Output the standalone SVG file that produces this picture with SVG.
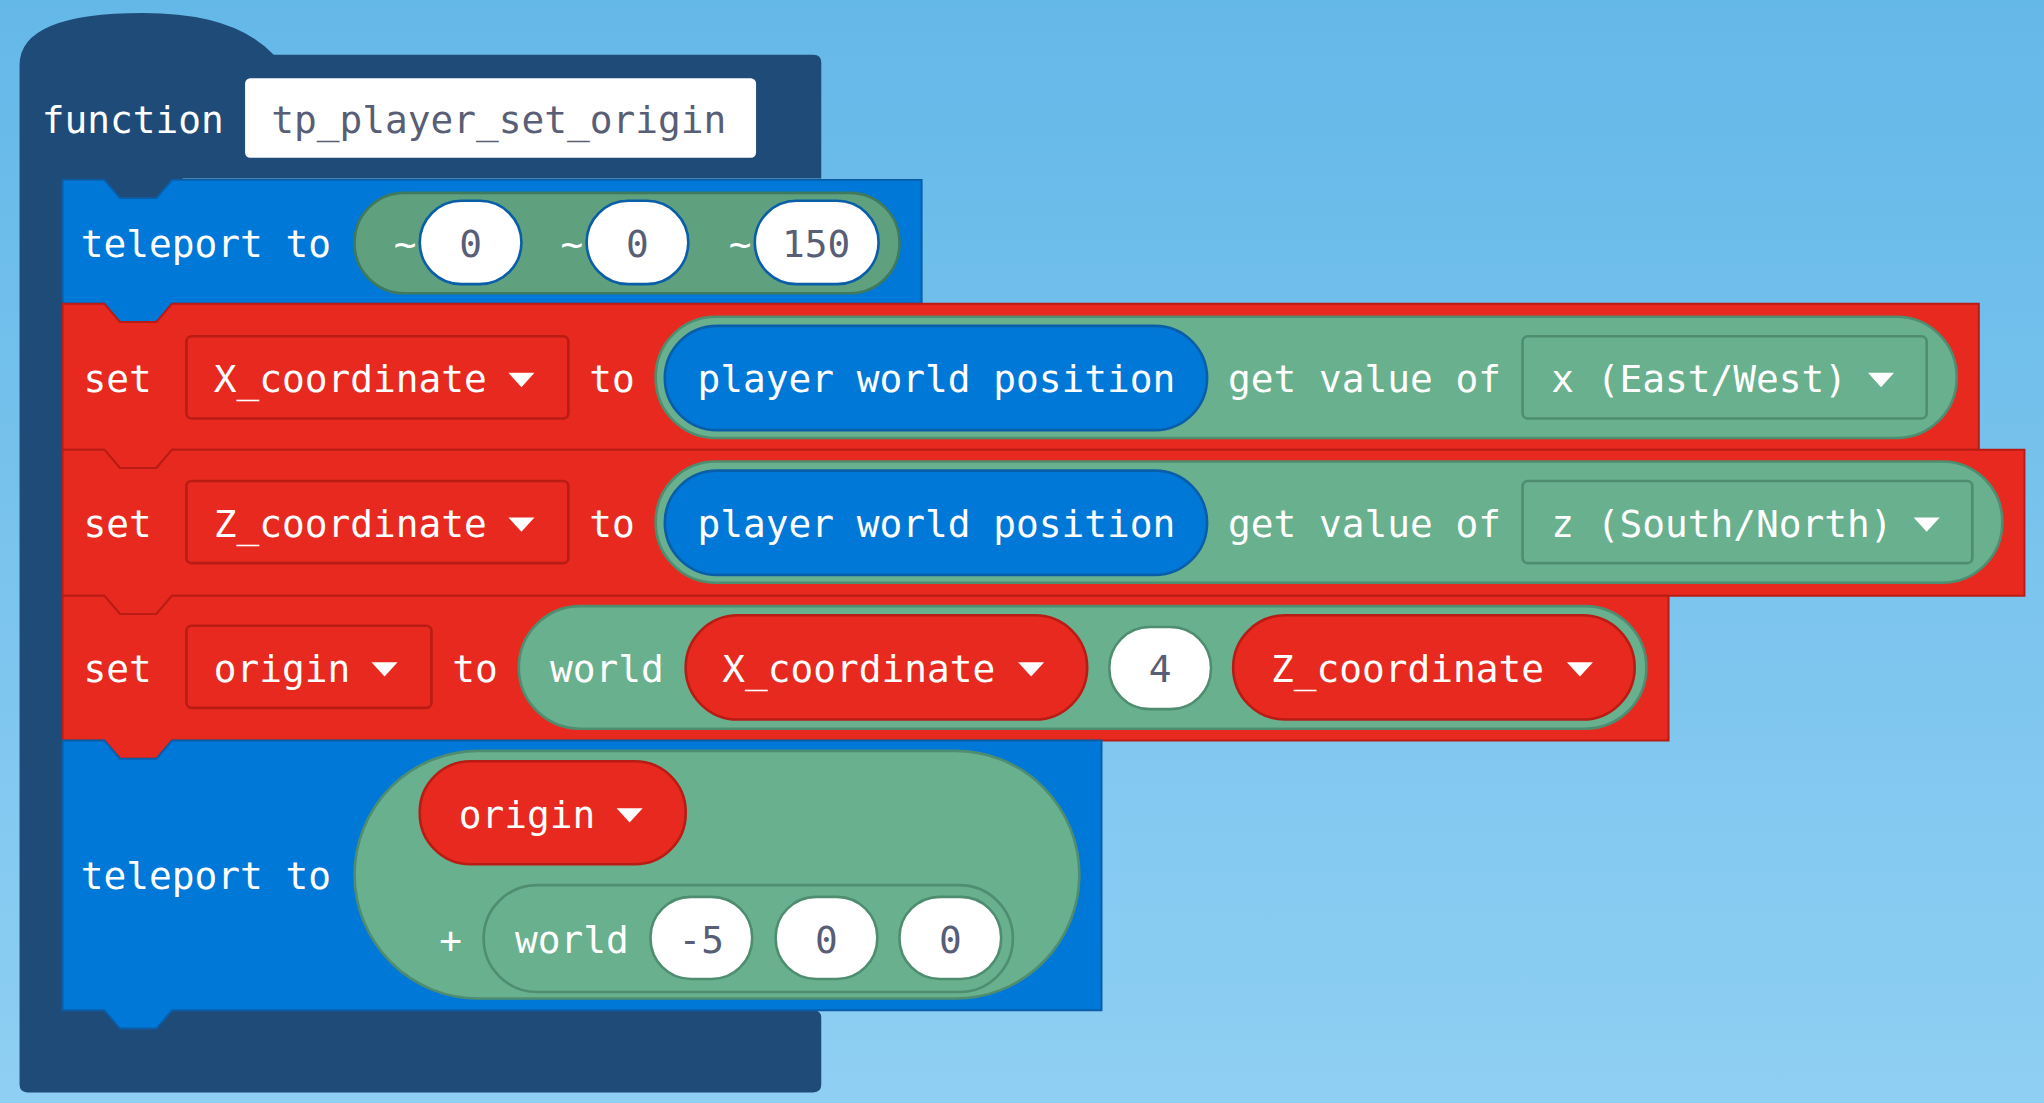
<svg xmlns="http://www.w3.org/2000/svg" width="2044" height="1103" viewBox="0 0 2044 1103">
<defs>
<linearGradient id="bg" x1="0" y1="0" x2="0" y2="1"><stop offset="0" stop-color="#64b8e8"/><stop offset="1" stop-color="#8fcff3"/></linearGradient>
<style>
text{font-family:"DejaVu Sans Mono","Liberation Mono",monospace;font-size:29px;fill:#fff;dominant-baseline:central}
.d{fill:#575e75}
.fn{fill:#1f4b78}
.bl{fill:#0078d7;stroke:#0a5ea8;stroke-width:1.5}
.rd{fill:#e8291f;stroke:#b81c14;stroke-width:1.5}
.gr{fill:#68b08e;stroke:#4f8d70;stroke-width:2}
.gr2{fill:#5fa07f;stroke:#3f7a5f;stroke-width:2}
.wo{fill:#fff;stroke:#0a5ea8;stroke-width:2}
.wo2{fill:#fff;stroke:#4f8d70;stroke-width:2}
.dd{fill:none;stroke:#b81c14;stroke-width:2}
.ddg{fill:none;stroke:#4f8d70;stroke-width:2}
.ro{fill:#e8291f;stroke:#b81c14;stroke-width:2}
.bo{fill:#0078d7;stroke:#0a5ea8;stroke-width:2}
.tri{fill:#fff}
</style>
</defs>
<rect width="2044" height="1103" fill="url(#bg)"/>
<g transform="scale(1.30357)">
<g id="function">
<path class="fn" d="M15 50 Q15 10 110 10 Q180 10 210 42 L624 42 Q630 42 630 48 L630 137 L140 137 L140 156 L48 156 L48 775 L624 775 Q630 775 630 781 L630 832 Q630 838 624 838 L21 838 Q15 838 15 832 Z"/>
<text x="32" y="92">function</text>
<rect x="188" y="60" width="392" height="61" rx="4" fill="#fff"/>
<text class="d" x="208" y="92">tp_player_set_origin</text>
</g>
<g id="teleport1">
<path class="bl" d="M48 138 L80 138 L92 152 L120 152 L132 138 L707 138 L707 233 L132 233 L120 247 L92 247 L80 233 L48 233 Z"/>
<text x="62" y="187">teleport to</text>
<rect class="gr2" x="272" y="148" width="418" height="77" rx="38"/>
<text x="302" y="187">~</text><rect class="wo" x="322" y="154" width="78" height="64" rx="32"/><text class="d" x="361" y="187" text-anchor="middle">0</text>
<text x="430" y="187">~</text><rect class="wo" x="450" y="154" width="78" height="64" rx="32"/><text class="d" x="489" y="187" text-anchor="middle">0</text>
<text x="559" y="187">~</text><rect class="wo" x="579" y="154" width="95" height="64" rx="32"/><text class="d" x="626" y="187" text-anchor="middle">150</text>
</g>
<g id="setX">
<path class="rd" d="M48 233 L80 233 L92 247 L120 247 L132 233 L1518 233 L1518 345 L132 345 L120 359 L92 359 L80 345 L48 345 Z"/>
<text x="64" y="291">set</text>
<rect class="dd" x="143" y="258" width="293" height="63" rx="4"/>
<text x="164" y="291">X_coordinate</text><path class="tri" d="M390 286 L410 286 L400 297 Z"/>
<text x="452" y="291">to</text>
<rect class="gr" x="503" y="243" width="998" height="93" rx="46"/>
<rect class="bo" x="510" y="250" width="416" height="80" rx="40"/>
<text x="535" y="291">player world position</text>
<text x="942" y="291">get value of</text>
<rect class="ddg" x="1168" y="258" width="310" height="63" rx="4"/>
<text x="1190" y="291">x (East/West)</text><path class="tri" d="M1433 286 L1453 286 L1443 297 Z"/>
</g>
<g id="setZ">
<path class="rd" d="M48 345 L80 345 L92 359 L120 359 L132 345 L1553 345 L1553 457 L132 457 L120 471 L92 471 L80 457 L48 457 Z"/>
<text x="64" y="402">set</text>
<rect class="dd" x="143" y="369" width="293" height="63" rx="4"/>
<text x="164" y="402">Z_coordinate</text><path class="tri" d="M390 397 L410 397 L400 408 Z"/>
<text x="452" y="402">to</text>
<rect class="gr" x="503" y="354" width="1033" height="93" rx="46"/>
<rect class="bo" x="510" y="361" width="416" height="80" rx="40"/>
<text x="535" y="402">player world position</text>
<text x="942" y="402">get value of</text>
<rect class="ddg" x="1168" y="369" width="345" height="63" rx="4"/>
<text x="1190" y="402">z (South/North)</text><path class="tri" d="M1468 397 L1488 397 L1478 408 Z"/>
</g>
<g id="setOrigin">
<path class="rd" d="M48 457 L80 457 L92 471 L120 471 L132 457 L1280 457 L1280 568 L132 568 L120 582 L92 582 L80 568 L48 568 Z"/>
<text x="64" y="513">set</text>
<rect class="dd" x="143" y="480" width="188" height="63" rx="4"/>
<text x="164" y="513">origin</text><path class="tri" d="M285 508 L305 508 L295 519 Z"/>
<text x="347" y="513">to</text>
<rect class="gr" x="398" y="465" width="865" height="94" rx="47"/>
<text x="422" y="513">world</text>
<rect class="ro" x="526" y="472" width="308" height="80" rx="40"/>
<text x="554" y="513">X_coordinate</text><path class="tri" d="M781 508 L801 508 L791 519 Z"/>
<rect class="wo2" x="851" y="481" width="78" height="63" rx="31"/><text class="d" x="890" y="513" text-anchor="middle">4</text>
<rect class="ro" x="946" y="472" width="308" height="80" rx="40"/>
<text x="975" y="513">Z_coordinate</text><path class="tri" d="M1202 508 L1222 508 L1212 519 Z"/>
</g>
<g id="teleport2">
<path class="bl" d="M48 568 L80 568 L92 582 L120 582 L132 568 L845 568 L845 775 L132 775 L120 789 L92 789 L80 775 L48 775 Z"/>
<text x="62" y="672">teleport to</text>
<rect class="gr" x="272" y="576" width="556" height="190" rx="95"/>
<rect class="ro" x="322" y="584" width="204" height="79" rx="39"/>
<text x="352" y="625">origin</text><path class="tri" d="M473 620 L493 620 L483 631 Z"/>
<text x="337" y="721">+</text>
<rect class="gr" x="371" y="679" width="406" height="82" rx="41"/>
<text x="395" y="721">world</text>
<rect class="wo2" x="499" y="688" width="78" height="63" rx="31"/><text class="d" x="538" y="721" text-anchor="middle">-5</text>
<rect class="wo2" x="595" y="688" width="78" height="63" rx="31"/><text class="d" x="634" y="721" text-anchor="middle">0</text>
<rect class="wo2" x="690" y="688" width="78" height="63" rx="31"/><text class="d" x="729" y="721" text-anchor="middle">0</text>
</g>
<g id="connectors"/>
</g>
</svg>
